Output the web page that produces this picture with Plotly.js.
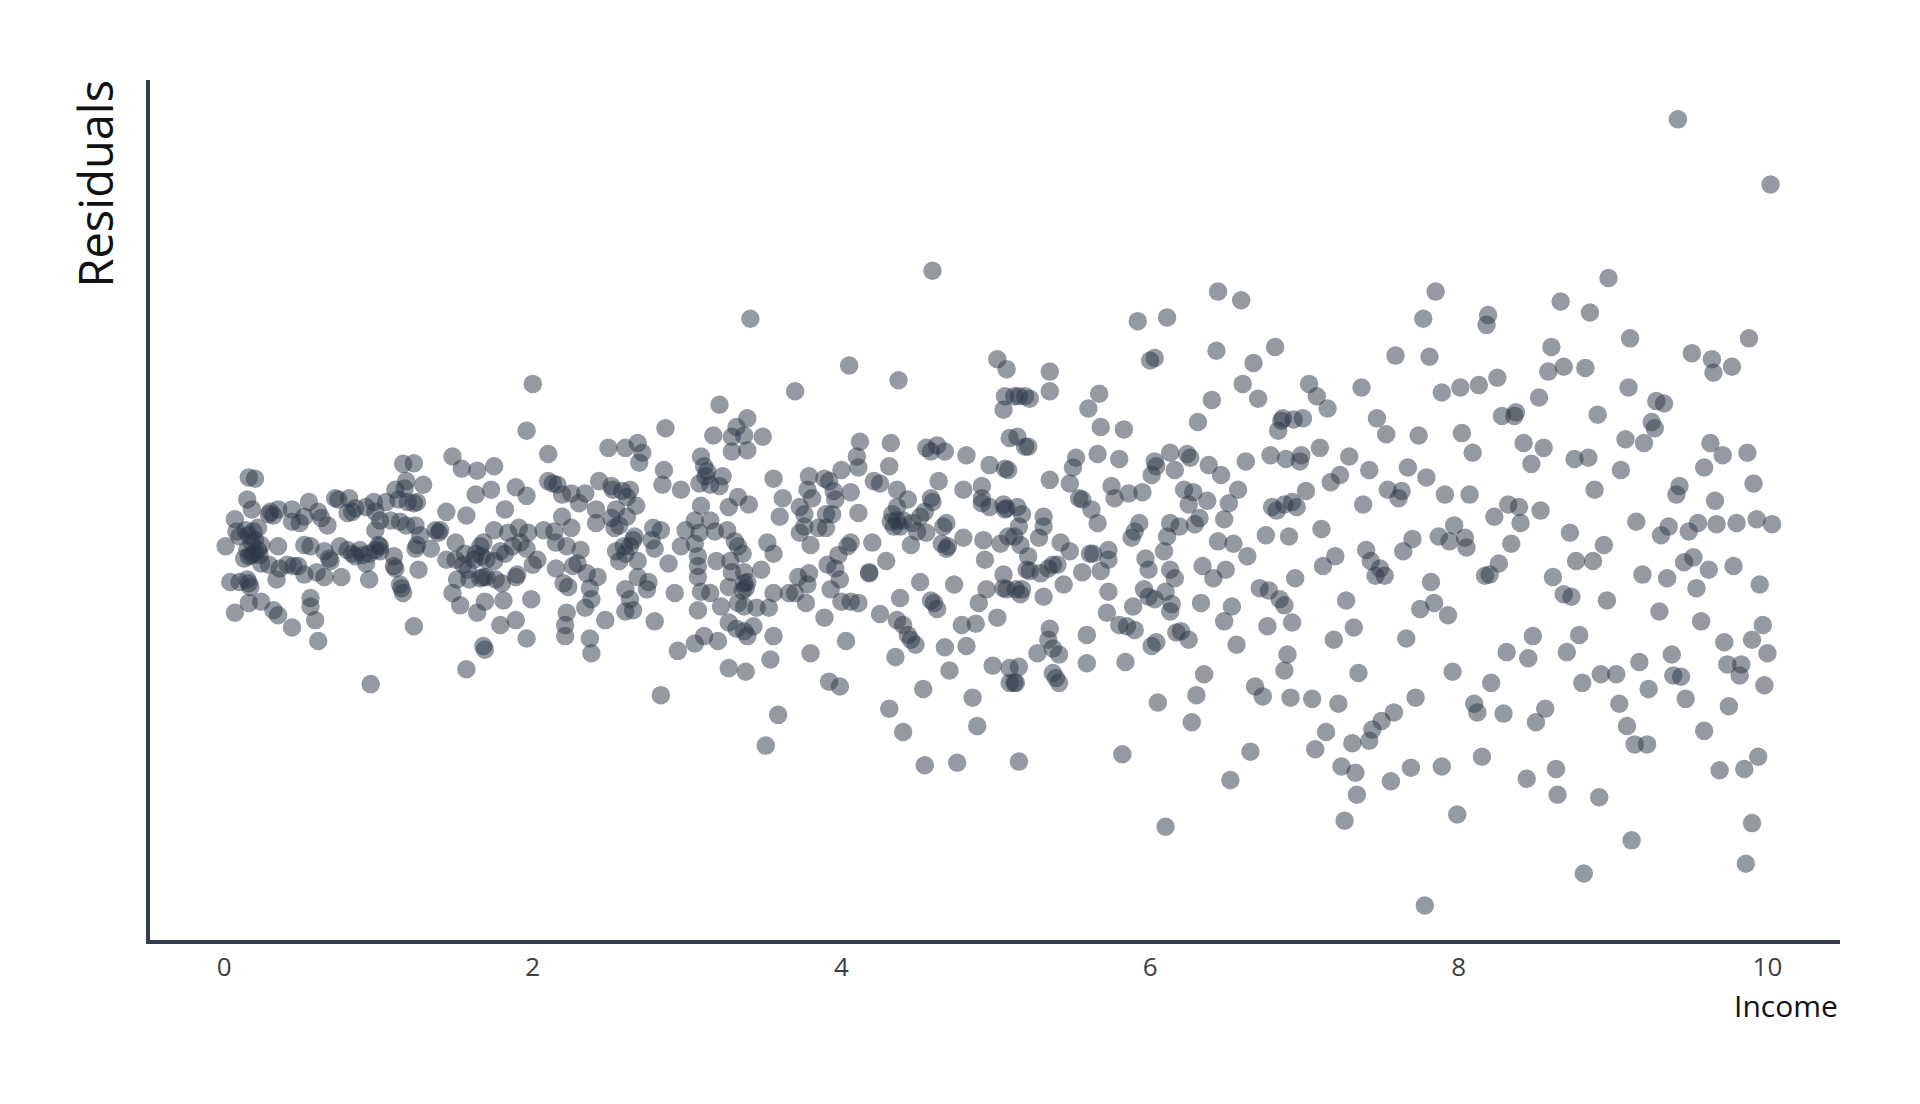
<!DOCTYPE html>
<html>
<head>
<meta charset="utf-8">
<script src="https://cdn.plot.ly/plotly-3.0.1.min.js"></script>
<style>
html,body{margin:0;padding:0;background:#fff;}
#chart{width:1920px;height:1104px;}
</style>
</head>
<body>
<div id="chart"></div>
<script>
// Income (x) and residual (y) values, one line per income band
const income = [
0.16,0.20,0.15,0.18,0.07,0.30,0.29,0.32,0.35,0.44,0.44,0.49,0.55,0.52,0.61,0.63,0.67,0.72,0.74,0.81,0.80,0.83,0.85,0.92,0.97,0.98,0.98,0.01,0.08,0.10,0.14,0.16,0.19,0.22,0.18,0.24,0.22,0.35,0.13,0.16,0.18,0.20,0.24,0.29,0.52,0.56,0.65,0.68,0.69,0.75,0.80,0.83,0.88,0.90,0.94,0.98,1.00,0.34,0.36,0.41,0.45,0.48,0.52,0.60,0.65,0.76,0.85,0.92,0.94,0.04,0.10,0.15,0.17,0.16,0.07,0.16,0.24,0.32,0.35,0.44,0.56,0.56,0.59,0.61,0.95,0.20,0.15,0.23,
1.96,1.48,1.16,1.23,1.54,1.64,1.75,1.29,1.18,1.11,1.17,1.63,1.73,1.89,1.96,1.05,1.13,1.19,1.23,1.25,1.44,1.57,1.82,1.08,1.14,1.18,1.24,1.01,1.37,1.40,1.39,1.27,1.25,1.24,1.34,1.75,1.84,1.91,1.97,2.07,1.50,1.56,1.63,1.66,1.68,1.44,1.50,1.55,1.58,1.62,1.67,1.70,1.75,1.79,1.82,1.87,1.92,1.96,2.00,2.03,1.01,1.01,1.10,1.10,1.11,1.26,1.51,1.59,1.66,1.68,1.70,1.76,1.80,1.89,1.90,1.14,1.15,1.16,1.48,1.53,1.64,1.69,1.81,1.99,1.23,1.79,1.89,1.96,1.68,1.69,1.57,2.00,
2.86,2.10,2.49,2.60,2.68,2.71,2.69,2.85,2.84,2.96,2.10,2.13,2.16,2.19,2.25,2.34,2.30,2.43,2.51,2.52,2.58,2.63,2.61,2.67,2.41,2.41,2.54,2.51,2.61,2.56,2.53,2.19,2.14,2.15,2.25,2.22,2.31,2.15,2.26,2.29,2.35,2.42,2.20,2.23,2.37,2.38,2.34,2.22,2.21,2.21,2.37,2.38,2.47,2.65,2.63,2.59,2.54,2.56,2.60,2.68,2.66,2.78,2.83,2.77,2.79,2.96,2.99,2.88,2.68,2.75,2.74,2.60,2.63,2.65,2.60,2.79,2.92,2.94,2.83,
3.70,3.21,3.39,3.32,3.17,3.29,3.37,3.49,3.29,3.39,3.09,3.11,3.13,3.12,3.08,3.15,3.21,3.23,3.56,3.09,3.33,3.27,3.40,3.62,3.60,3.79,3.78,3.81,3.73,3.76,3.89,3.92,3.95,3.96,4.00,4.06,3.90,3.94,3.90,3.76,3.73,3.85,3.80,3.05,3.15,3.08,3.05,3.18,3.26,3.31,3.33,3.36,3.52,3.56,3.07,3.07,3.19,3.28,3.29,3.37,3.07,3.09,3.15,3.27,3.37,3.39,3.36,3.38,3.48,3.07,3.22,3.33,3.37,3.45,3.53,3.56,3.66,3.72,3.70,3.78,3.79,3.77,3.91,3.96,3.93,3.99,3.98,4.04,4.06,4.00,4.06,3.27,3.32,3.37,3.39,3.43,3.11,3.20,3.05,3.56,3.89,3.54,3.80,4.03,3.27,3.38,3.92,3.99,3.59,3.41,3.51,
4.37,5.06,5.05,4.12,4.32,4.10,4.11,4.31,4.55,4.58,4.62,4.67,4.81,4.96,5.06,5.08,5.09,4.21,4.25,4.36,4.63,4.79,4.91,4.91,4.91,4.96,5.05,5.06,5.07,4.11,4.43,4.58,4.59,4.54,4.51,4.36,4.33,4.32,4.34,4.36,4.40,4.46,4.38,4.49,4.55,4.45,4.66,4.68,4.65,4.68,4.69,4.79,4.92,4.93,5.03,5.08,4.20,4.29,4.18,4.18,4.51,4.73,5.05,5.05,5.07,4.94,4.89,5.01,4.38,4.11,4.58,4.60,4.62,4.25,4.36,4.40,4.43,4.45,4.48,4.78,4.87,4.67,4.81,4.35,4.70,4.98,5.09,5.09,4.53,4.85,4.31,4.40,4.88,4.54,4.75,4.05,4.59,
5.35,5.35,6.00,6.03,5.12,5.15,5.19,5.22,5.67,5.60,5.68,5.83,5.14,5.19,5.21,5.52,5.50,5.66,5.80,5.35,5.48,5.75,5.77,5.86,5.95,6.03,6.04,6.01,6.13,5.54,5.56,5.62,5.66,5.14,5.17,5.15,5.12,5.16,5.31,5.31,5.28,5.93,5.90,5.88,6.13,6.11,6.09,6.13,5.42,5.48,5.61,5.63,5.73,5.73,5.68,5.56,5.21,5.20,5.22,5.29,5.34,5.37,5.40,5.13,5.16,5.17,5.31,5.44,5.97,5.99,5.73,5.96,5.99,6.03,6.10,5.89,6.13,5.72,5.80,5.85,5.90,5.35,5.34,5.37,5.41,5.27,5.59,6.01,6.04,5.15,5.12,5.13,5.37,5.39,5.41,5.59,5.84,6.05,5.15,5.82,5.01,5.07,5.92,
6.10,6.11,6.14,6.16,6.16,6.17,6.19,6.20,6.22,6.24,6.25,6.26,6.27,6.28,6.29,6.30,6.31,6.33,6.34,6.35,6.37,6.38,6.40,6.41,6.43,6.44,6.44,6.46,6.48,6.48,6.49,6.51,6.52,6.53,6.54,6.56,6.57,6.59,6.60,6.62,6.63,6.65,6.67,6.68,6.70,6.71,6.73,6.75,6.76,6.78,6.79,6.81,6.83,6.84,6.86,6.87,6.87,6.89,6.90,6.91,6.92,6.94,6.95,6.97,6.99,6.85,6.93,6.88,6.98,6.82,6.92,6.77,6.87,6.25,6.32,
7.01,7.03,7.05,7.07,7.08,7.10,7.11,7.12,7.14,7.15,7.17,7.19,7.20,7.22,7.23,7.24,7.26,7.27,7.29,7.31,7.32,7.33,7.34,7.35,7.37,7.38,7.40,7.42,7.42,7.43,7.44,7.46,7.47,7.49,7.50,7.52,7.53,7.54,7.56,7.58,7.59,7.61,7.63,7.64,7.66,7.67,7.69,7.70,7.72,7.74,7.75,7.77,7.78,7.79,7.81,7.82,7.84,7.85,7.87,7.89,7.89,7.91,7.93,7.94,7.96,7.97,7.99,
8.01,8.02,8.04,8.05,8.07,8.09,8.10,8.12,8.13,8.15,8.17,8.18,8.19,8.20,8.21,8.23,8.25,8.26,8.28,8.29,8.31,8.32,8.34,8.36,8.37,8.39,8.40,8.42,8.44,8.45,8.47,8.48,8.50,8.52,8.53,8.55,8.56,8.58,8.60,8.61,8.63,8.64,8.66,8.68,8.68,8.70,8.72,8.73,8.75,8.76,8.78,8.80,8.81,8.82,8.84,8.85,8.87,8.88,8.90,8.91,8.92,8.94,8.96,8.97,
9.02,9.04,9.05,9.08,9.09,9.10,9.11,9.12,9.14,9.15,9.17,9.19,9.20,9.22,9.23,9.25,9.27,9.28,9.30,9.31,9.33,9.35,9.36,9.38,9.39,9.41,9.42,9.43,9.44,9.46,9.47,9.49,9.51,9.52,9.54,9.55,9.57,9.59,9.59,9.62,9.63,9.64,9.65,9.66,9.67,9.69,9.71,9.72,9.74,9.75,9.77,9.78,9.80,9.82,9.83,9.85,9.86,9.87,9.88,9.90,9.90,9.91,9.93,9.94,9.95,9.97,9.98,10.00,10.02,10.03
];
const residuals = [
6.2,6.1,4.4,3.6,2.8,3.4,3.2,3.1,3.6,3.6,2.6,2.5,4.2,3.0,3.4,2.9,2.3,4.5,4.4,4.5,3.3,3.4,3.7,3.8,4.2,3.4,1.9,0.6,1.8,1.4,1.9,1.5,1.8,2.1,0.9,0.7,0.3,0.6,-0.4,-0.2,-0.1,0.0,-0.8,-0.9,0.7,0.6,0.2,-0.4,-0.6,0.6,0.3,0.0,0.3,-0.1,0.0,0.3,0.7,-2.1,-1.2,-0.9,-1.0,-1.0,-1.7,-1.5,-1.9,-1.9,-0.2,-0.8,-2.1,-2.3,-2.3,-2.1,-2.7,-2.4,-4.8,-4.0,-3.9,-4.6,-5.0,-6.0,-3.6,-4.3,-5.4,-7.1,-10.6,1.1,0.3,-0.1,
10.0,7.9,7.3,7.35,6.9,6.75,7.1,5.6,5.9,5.2,5.3,4.8,5.2,5.4,4.7,4.2,4.4,4.2,4.1,4.2,3.4,3.1,3.6,2.7,2.6,2.3,2.3,2.7,1.9,1.9,1.7,1.5,0.7,0.4,0.4,1.9,1.7,2.1,1.7,1.9,0.9,0.0,0.0,0.6,0.9,-0.5,-0.5,-0.9,-1.3,-0.5,-0.2,-0.5,-0.6,0.2,0.0,0.6,0.9,0.4,-0.9,-0.5,0.6,0.2,-0.2,-1.0,-1.2,-1.3,-2.1,-2.1,-2.0,-1.9,-1.9,-2.1,-2.4,-1.9,-1.7,-2.5,-2.8,-3.2,-3.2,-4.2,-4.8,-3.9,-3.8,-3.7,-5.9,-5.8,-5.4,-6.9,-7.5,-7.8,-9.4,13.8,
10.2,8.1,8.6,8.6,9.0,8.2,7.4,6.8,5.6,5.2,5.9,5.7,5.6,4.8,4.9,4.9,4.1,5.9,5.5,5.2,5.1,5.2,4.6,3.9,3.6,2.5,3.6,2.9,3.0,2.3,2.1,3.0,1.8,0.9,2.1,0.6,0.3,-1.2,-1.0,-0.8,-1.6,-1.9,-2.4,-2.7,-2.8,-3.7,-4.4,-4.8,-5.8,-6.7,-6.9,-8.1,-5.4,1.1,0.6,0.6,0.2,-0.6,0.0,-0.6,1.4,2.1,1.9,1.1,0.4,0.6,1.9,-0.8,-1.9,-2.3,-2.9,-2.9,-3.7,-4.6,-4.7,-5.5,-3.2,-7.9,-11.5,
13.2,12.1,11.0,10.3,9.6,9.5,9.6,9.5,8.3,8.4,7.9,7.1,6.7,6.3,5.7,5.6,5.5,6.3,6.1,3.9,4.6,3.8,4.0,4.5,3.0,6.3,5.2,4.5,3.8,3.2,6.1,5.9,5.1,4.4,6.8,5.0,3.2,3.2,2.1,2.2,1.7,2.1,0.7,2.7,2.7,1.7,0.8,1.8,1.9,1.0,0.6,0.0,0.9,0.0,-0.2,-1.0,-0.6,-0.6,-1.5,-1.5,-1.9,-3.1,-3.2,-2.7,-2.4,-2.3,-3.0,-2.8,-1.3,-4.6,-4.3,-4.0,-4.3,-4.4,-4.4,-3.2,-3.2,-1.9,-3.2,-2.5,-1.6,-4.0,-0.9,-1.2,-2.9,-2.1,-0.1,0.6,0.9,-3.9,-3.9,-5.6,-6.1,-6.3,-6.7,-5.9,-6.7,-7.1,-7.3,-6.7,-5.2,-8.6,-8.1,-7.1,-9.3,-9.6,-10.4,-10.8,-13.1,19.1,-15.6,
14.1,12.8,11.7,9.1,9.0,7.9,7.0,7.1,8.6,8.3,8.8,8.3,8.0,7.2,6.9,6.8,9.4,5.9,5.7,5.2,5.9,5.2,5.5,4.5,4.1,3.8,4.0,3.6,3.7,3.3,4.4,4.5,4.2,3.4,3.0,3.8,3.2,2.6,2.2,2.7,2.7,2.5,2.2,1.8,1.7,0.7,2.2,2.5,0.8,0.4,0.6,1.3,1.1,-0.5,0.8,1.4,0.9,-0.6,-1.5,-1.6,-2.3,-2.5,-1.7,-2.8,-2.9,-2.9,-4.0,-5.2,-3.6,-4.0,-3.8,-4.0,-4.5,-4.9,-5.4,-5.8,-6.6,-7.0,-7.4,-5.8,-5.7,-7.6,-7.5,-8.4,-9.5,-9.1,-10.5,-9.3,-11.0,-11.7,-12.6,-14.5,-14.0,-17.2,-17.0,15.3,23.0,
14.8,13.2,15.7,15.9,12.8,12.8,12.8,12.6,13.0,11.8,10.3,10.1,9.5,8.7,8.7,7.8,7.0,8.1,7.7,6.0,5.7,5.5,4.5,4.9,5.0,7.5,7.1,6.4,8.2,4.5,4.4,3.6,2.5,3.8,3.2,2.2,1.4,0.7,3.0,2.2,1.3,2.5,1.8,1.3,2.5,1.4,0.2,-1.3,0.9,0.2,0.0,0.0,0.3,-0.5,-1.4,-1.5,-0.2,-1.3,-1.4,-1.6,-1.2,-0.9,-0.9,-2.9,-3.3,-2.9,-3.5,-2.5,-0.4,-1.3,-3.1,-2.9,-3.5,-3.7,-3.1,-4.3,-4.7,-4.8,-5.8,-5.9,-6.2,-6.1,-7.0,-7.7,-8.2,-8.1,-6.6,-7.5,-7.2,-9.2,-10.5,-10.5,-9.7,-10.1,-10.5,-8.9,-8.8,-12.1,-16.9,-16.3,15.8,15.0,18.9,
-22.2,19.2,-4.1,6.8,-2.0,-6.4,2.2,-6.3,5.2,8.1,-7.0,7.8,-13.7,5.0,2.4,-11.5,10.7,-4.0,-1.0,-9.8,4.3,7.2,12.5,-2.0,16.5,21.3,1.0,6.4,2.8,-5.5,-1.3,4.1,-18.4,-4.3,0.8,-7.4,5.2,20.6,13.8,7.5,-0.2,-16.1,15.5,-10.8,12.6,-2.8,-11.6,1.5,-5.9,8.0,3.8,16.8,10.0,-3.7,11.0,-9.5,4.0,-8.2,1.4,-11.7,-5.6,-2.0,3.8,7.5,11.0,10.8,10.9,7.7,8.0,3.5,4.2,-3.0,-4.2,4.0,2.9,
5.1,13.8,-11.8,-15.9,12.8,8.6,2.0,-1.0,-14.5,11.8,5.8,-7.0,-0.2,-12.2,6.4,-17.3,-21.7,-3.8,7.9,-15.4,-6.0,-17.8,-19.6,-9.7,13.5,4.0,0.3,6.8,-15.2,-0.6,-14.3,-1.8,11.0,-1.2,-13.6,-1.8,9.7,5.2,-18.5,-12.9,16.1,4.5,5.1,0.2,-6.9,7.0,-17.4,1.2,-11.7,9.6,-4.5,19.1,-28.6,6.2,16.0,-2.3,-4.0,21.3,1.4,13.1,-17.3,4.8,-5.0,1.0,-9.6,2.3,-21.2,
13.5,9.8,1.3,0.5,4.8,8.2,-12.2,-12.9,13.7,-16.5,-1.8,18.6,19.4,-1.7,-10.5,3.0,14.3,-0.8,11.2,-13.0,-8.0,4.0,0.8,11.2,11.5,3.8,2.5,9.0,-18.3,-8.5,7.3,-6.7,-13.7,12.7,3.5,8.6,-12.6,14.8,16.8,-1.9,-17.5,-19.6,20.5,15.2,-3.3,-8.0,1.7,-3.5,7.7,-0.6,-6.6,-10.5,-26.0,15.1,7.8,19.6,-0.6,5.2,11.3,-19.8,-9.8,0.7,-3.8,22.4,
-9.8,-12.2,6.8,9.3,-14.0,13.5,17.5,-23.3,-15.5,2.6,-8.8,-1.7,9.0,-15.5,-11.0,10.7,10.2,12.4,-4.7,1.5,12.2,-2.0,2.2,-8.2,-9.9,4.8,35.3,5.5,-10.0,-0.7,-11.8,1.8,16.3,-0.3,-2.8,2.5,-5.5,7.0,-14.4,-1.3,9.0,15.8,14.7,4.3,2.4,-17.6,8.0,-7.2,-9.0,-12.4,15.2,-1.0,2.5,-9.9,-9.0,-17.5,-25.2,8.2,17.5,-7.0,-21.9,5.7,2.8,-16.5,-2.5,-5.8,-10.7,-8.1,30.0,2.4
];
const xTicks = [0, 2, 4, 6, 8, 10];
const xTitle = 'Income';
const yTitle = 'Residuals';

const trace = {
  type: 'scatter',
  mode: 'markers',
  x: income,
  y: residuals,
  marker: {
    size: 17,
    color: '#2d3748',
    opacity: 0.5,
    line: {width: 1.5, color: '#2d3748'}
  },
  hoverinfo: 'skip'
};

const layout = {
  width: 1920,
  height: 1104,
  paper_bgcolor: '#ffffff',
  plot_bgcolor: '#ffffff',
  margin: {l: 150, r: 80, t: 80, b: 164, pad: 0},
  showlegend: false,
  xaxis: {
    range: [-0.48, 10.47],
    tickvals: xTicks,
    ticktext: xTicks.map(String),
    showgrid: false,
    zeroline: false,
    showline: true,
    linewidth: 4,
    linecolor: '#363d4f',
    ticks: '',
    ticklabelstandoff: 1,
    tickfont: {family: 'Open Sans, Noto Sans, sans-serif', size: 26, color: '#3d3d3d'}
  },
  yaxis: {
    range: [-31.4, 38.5],
    showgrid: false,
    zeroline: false,
    showline: true,
    linewidth: 4,
    linecolor: '#363d4f',
    ticks: '',
    showticklabels: false
  },
  annotations: [
    {
      text: xTitle,
      xref: 'paper', yref: 'paper',
      x: 1, y: -0.0767,
      xanchor: 'right', yanchor: 'middle',
      showarrow: false,
      font: {family: 'Open Sans, Noto Sans, sans-serif', size: 30, color: '#111111'}
    },
    {
      text: yTitle,
      xref: 'paper', yref: 'paper',
      x: -0.0325, y: 0.8797,
      xanchor: 'center', yanchor: 'middle',
      textangle: -90,
      showarrow: false,
      font: {family: 'Open Sans, Noto Sans, sans-serif', size: 47, color: '#111111'}
    }
  ]
};

Plotly.newPlot('chart', [trace], layout, {displayModeBar: false, staticPlot: true});
</script>
</body>
</html>
